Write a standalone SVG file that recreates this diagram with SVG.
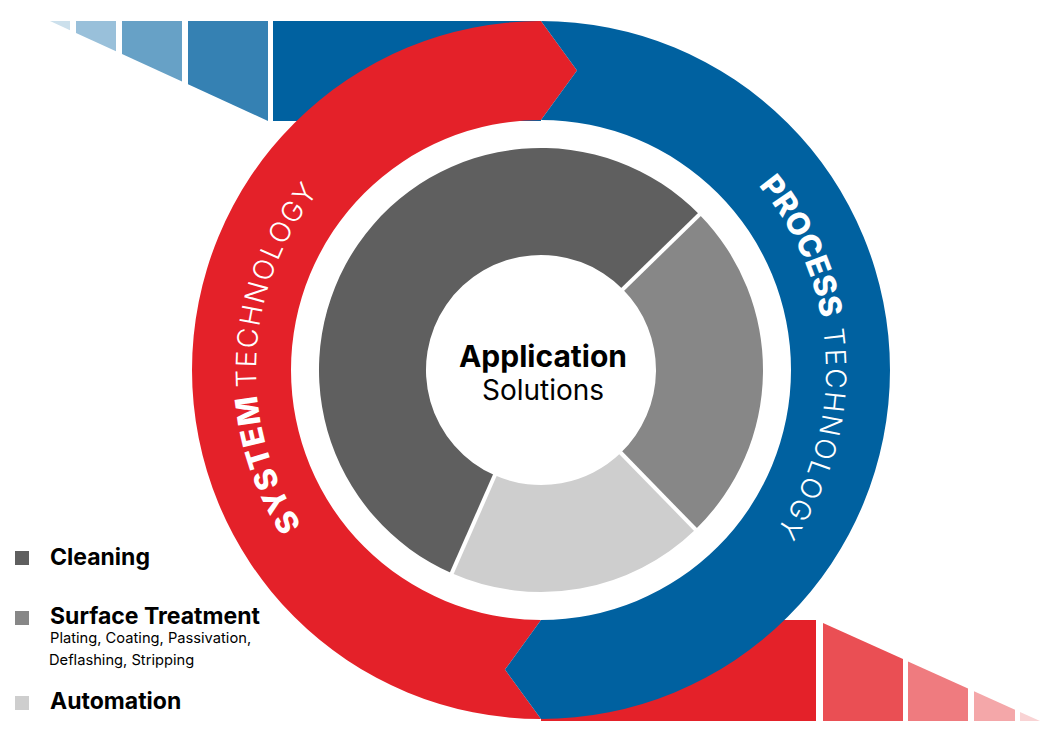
<svg xmlns="http://www.w3.org/2000/svg" width="1055" height="750" viewBox="0 0 1055 750">
  <style>
    .ring-text { font-family: Inter, "Liberation Sans", sans-serif; font-size: 28px; fill: #ffffff; }
    .b { font-weight: 800; font-size: 31px; }
    .l { font-weight: 300; }
    .center { font-family: Inter, "Liberation Sans", sans-serif; fill: #000000; text-anchor: middle; }
    .leg { font-family: Inter, "Liberation Sans", sans-serif; fill: #000000; }
    .sep { stroke: #ffffff; stroke-width: 4; fill: none; }
  </style>
  <defs>
    <path id="lp" d="M322.68,553.19 A285,285 0 0 1 339.47,168.47"/>
    <path id="rp" d="M742.53,168.47 A285,285 0 0 1 759.32,553.19"/>
  </defs>
  <rect width="1055" height="750" fill="#ffffff"/>

  <g id="blue-steps">
    <polygon points="50,21 70,21 70,30.2" fill="#cce0ec"/>
    <polygon points="76,21 116,21 116,51.3 76,32.9" fill="#99c0da"/>
    <polygon points="122,21 182,21 182,81.5 122,54" fill="#67a1c6"/>
    <polygon points="188,21 268,21 268,121 188,84.3" fill="#3581b3"/>
    <rect x="273" y="21" width="268" height="100" fill="#0061a0"/>
  </g>
  <g id="red-steps">
    <rect x="541" y="620" width="275" height="101" fill="#e42129"/>
    <polygon points="823,623 903,659.1 903,721 823,721" fill="#ea4f54"/>
    <polygon points="908,661.4 968,688.5 968,721 908,721" fill="#ef7b7f"/>
    <polygon points="974,691.2 1015,709.7 1015,721 974,721" fill="#f4a7a9"/>
    <polygon points="1020,712 1040,721 1020,721" fill="#f9d3d4"/>
  </g>

  <g id="system-technology">
    <path d="M541,719 A349,349 0 0 1 192,370 A349,349 0 0 1 541,21 L577,70.5 L541,120 A250,250 0 0 0 291,370 A250,250 0 0 0 541,620 L505,669.5 Z" fill="#e42129"/>
    <text class="ring-text"><textPath href="#lp" startOffset="34.8" textLength="139" lengthAdjust="spacing" class="b">SYSTEM</textPath></text>
    <text class="ring-text"><textPath href="#lp" startOffset="181.6" textLength="209" lengthAdjust="spacing" class="l">TECHNOLOGY</textPath></text>
  </g>
  <g id="process-technology">
    <path d="M541,21 A349,349 0 0 1 890,370 A349,349 0 0 1 541,719 L505,669.5 L541,620 A250,250 0 0 0 791,370 A250,250 0 0 0 541,120 L577,70.5 Z" fill="#0061a0"/>
    <text class="ring-text"><textPath href="#rp" startOffset="23.4" textLength="148.7" lengthAdjust="spacing" class="b">PROCESS</textPath></text>
    <text class="ring-text"><textPath href="#rp" startOffset="183" textLength="212" lengthAdjust="spacing" class="l">TECHNOLOGY</textPath></text>
  </g>

  <g id="donut">
    <path id="seg-cleaning" d="M451.77,573.28 A222,222 0 1 1 699.34,214.40 L623.02,289.40 A115,115 0 1 0 494.78,475.30 Z" fill="#5f5f5f"/>
    <path id="seg-surface" d="M699.34,214.40 A222,222 0 0 1 695.21,529.69 L620.89,452.72 A115,115 0 0 0 623.02,289.40 Z" fill="#878787"/>
    <path id="seg-automation" d="M695.21,529.69 A222,222 0 0 1 451.77,573.28 L494.78,475.30 A115,115 0 0 0 620.89,452.72 Z" fill="#cecece"/>
  </g>
  <g id="connectors">
    <line class="sep" x1="621" y1="291" x2="701" y2="213"/>
    <line class="sep" x1="619" y1="451" x2="697" y2="531"/>
    <line class="sep" x1="495.6" y1="473.5" x2="450.9" y2="575.1"/>
  </g>

  <g id="center">
    <text class="center" x="543" y="367" font-size="30" font-weight="700">Application</text>
    <text class="center" x="543" y="400" font-size="28" font-weight="400">Solutions</text>
  </g>

  <g id="legend-cleaning">
    <rect x="15" y="551" width="14" height="14" fill="#5f5f5f"/>
    <text class="leg" x="50" y="565" font-size="23" font-weight="700">Cleaning</text>
  </g>
  <g id="legend-surface">
    <rect x="15" y="611" width="14" height="14" fill="#878787"/>
    <text class="leg" x="50" y="624" font-size="23" font-weight="700">Surface Treatment</text>
    <text class="leg" x="50" y="643" font-size="14.7" font-weight="400">Plating, Coating, Passivation,</text>
    <text class="leg" x="49" y="665" font-size="14.7" font-weight="400">Deflashing, Stripping</text>
  </g>
  <g id="legend-automation">
    <rect x="15" y="696" width="14" height="14" fill="#cecece"/>
    <text class="leg" x="50" y="709" font-size="23" font-weight="700">Automation</text>
  </g>
</svg>
